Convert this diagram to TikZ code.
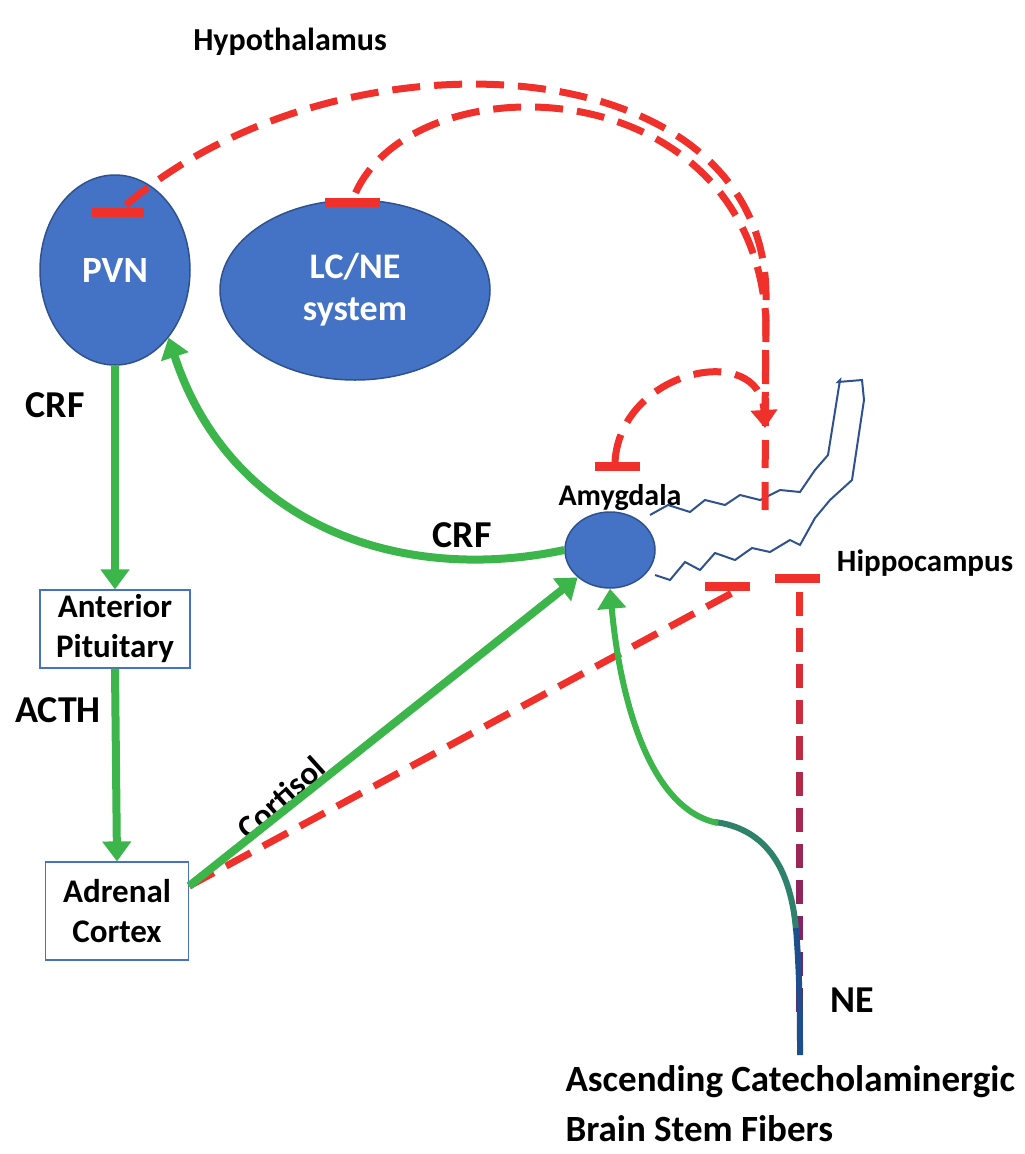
\documentclass[tikz,border=0pt]{standalone}
\usepackage{fontspec}
\setmainfont{Carlito}
\usetikzlibrary{arrows.meta,shapes.geometric}
\definecolor{nblue}{HTML}{4472C4}
\definecolor{nedge}{HTML}{2F528F}
\definecolor{gr}{HTML}{3CB54A}
\definecolor{rd}{HTML}{F0302A}
\definecolor{pu}{HTML}{6A2070}
\definecolor{db}{HTML}{1F4E8C}
\begin{document}
\begin{tikzpicture}[x=1pt,y=-1pt,
  blob/.style={ellipse,draw=nedge,line width=1.5pt,fill=nblue,text=white,font=\bfseries\fontsize{37}{42}\selectfont,align=center,inner sep=0pt},
  box/.style={draw=nblue,line width=1.2pt,fill=white,align=center,font=\bfseries\fontsize{33}{40}\selectfont,inner sep=3pt},
  lab/.style={font=\bfseries\fontsize{38}{44}\selectfont},
  garr/.style={draw=gr,line width=8pt,-{Triangle[length=20pt,width=28pt]}},
  rdash/.style={draw=rd,line width=7pt,dash pattern=on 28pt off 14pt},
  tbar/.style={draw=rd,line width=9pt},
  ]
\useasboundingbox (0,0) rectangle (1025,1154);
\node[font=\bfseries\fontsize{32}{38}\selectfont] (hyp) at (290,42) {Hypothalamus};
\node[blob,minimum width=150pt,minimum height=190pt] (pvn) at (115,270) {PVN};
\node[blob,minimum width=270pt,minimum height=180pt,font=\bfseries\fontsize{36}{42}\selectfont] (lc) at (355,290) {LC/NE\\system};
\node[blob,minimum width=90pt,minimum height=76pt] (amy) at (610,550) {};
\node[font=\bfseries\fontsize{30}{36}\selectfont] (amyl) at (620,498) {Amygdala};
\node[box,minimum width=150pt,minimum height=78pt] (ap) at (115,629) {Anterior\\Pituitary};
\node[box,minimum width=143pt,minimum height=98pt] (ac) at (117,911) {Adrenal\\Cortex};
\node[font=\bfseries\fontsize{31}{36}\selectfont] (hipl) at (925,563) {Hippocampus};
\node[lab] (crf1) at (55,405) {CRF};
\node[lab] (crf2) at (462,535) {CRF};
\node[lab] (acth) at (58,710) {ACTH};
\node[font=\bfseries\fontsize{33}{38}\selectfont,rotate=42] (cort) at (281,798) {Cortisol};
\node[lab] (ne) at (852,1000) {NE};
\node[font=\bfseries\fontsize{37}{50}\selectfont,align=left,anchor=north west] (asc) at (562,1062) {Ascending Catecholaminergic\\Brain Stem Fibers};
% hippocampus outline
\draw[nedge,line width=2pt] (650,515) -- (668,505) -- (690,512) -- (705,500) -- (725,505) -- (740,495) -- (760,500) -- (780,490) -- (800,492) -- (815,470) -- (828,455) -- (840,380) -- (838,382) -- (862,380) -- (864,400) -- (852,480) -- (830,500) -- (815,518) -- (800,545) -- (790,540) -- (770,552) -- (752,548) -- (735,560) -- (715,553) -- (700,570) -- (685,562) -- (670,580) -- (655,575);
% red dashed inhibitory
\draw[rdash] (765,510) -- (766,300) .. controls (770,40) and (330,20) .. (118,212);
\draw[tbar] (92,212) -- (144,212);
\draw[rdash] (765,420) -- (766,320) .. controls (750,60) and (400,60) .. (352,202);
\draw[tbar] (325,202) -- (380,202);
\draw[rdash,-{Triangle[length=18pt,width=26pt]}] (615,462) .. controls (620,370) and (760,340) .. (765,428);
\draw[tbar] (595,466) -- (640,466);
\draw[rdash] ([yshift=25pt]ac.east) -- (745,586);
\draw[tbar] (705,586) -- (750,586);
\foreach \i in {0,...,11}{
  \pgfmathsetmacro{\p}{100-\i*9}
  \draw[draw=rd!\p!pu,line width=7pt] (799,{592+\i*36}) -- (799,{592+\i*36+24});
}
\draw[tbar] (775,578) -- (820,578);
% green
\draw[garr] (pvn.south) -- (ap.north);
\draw[garr] (ap.south) -- (ac.north);
\draw[garr] (amy.west) .. controls (400,585) and (230,525) .. (pvn.south east);
\draw[garr] ([yshift=25pt]ac.east) -- (amy.south west);
\draw[draw=gr!50!db,line width=6pt] (715,822) .. controls (760,828) and (790,860) .. (796,930);
\draw[draw=db,line width=6pt] (796,928) .. controls (800,980) and (800,1020) .. (800,1055);
\draw[draw=gr,line width=6pt,-{Triangle[length=20pt,width=28pt]}] (718,823) .. controls (650,810) and (620,700) .. (amy.south);
\end{tikzpicture}
\end{document}
